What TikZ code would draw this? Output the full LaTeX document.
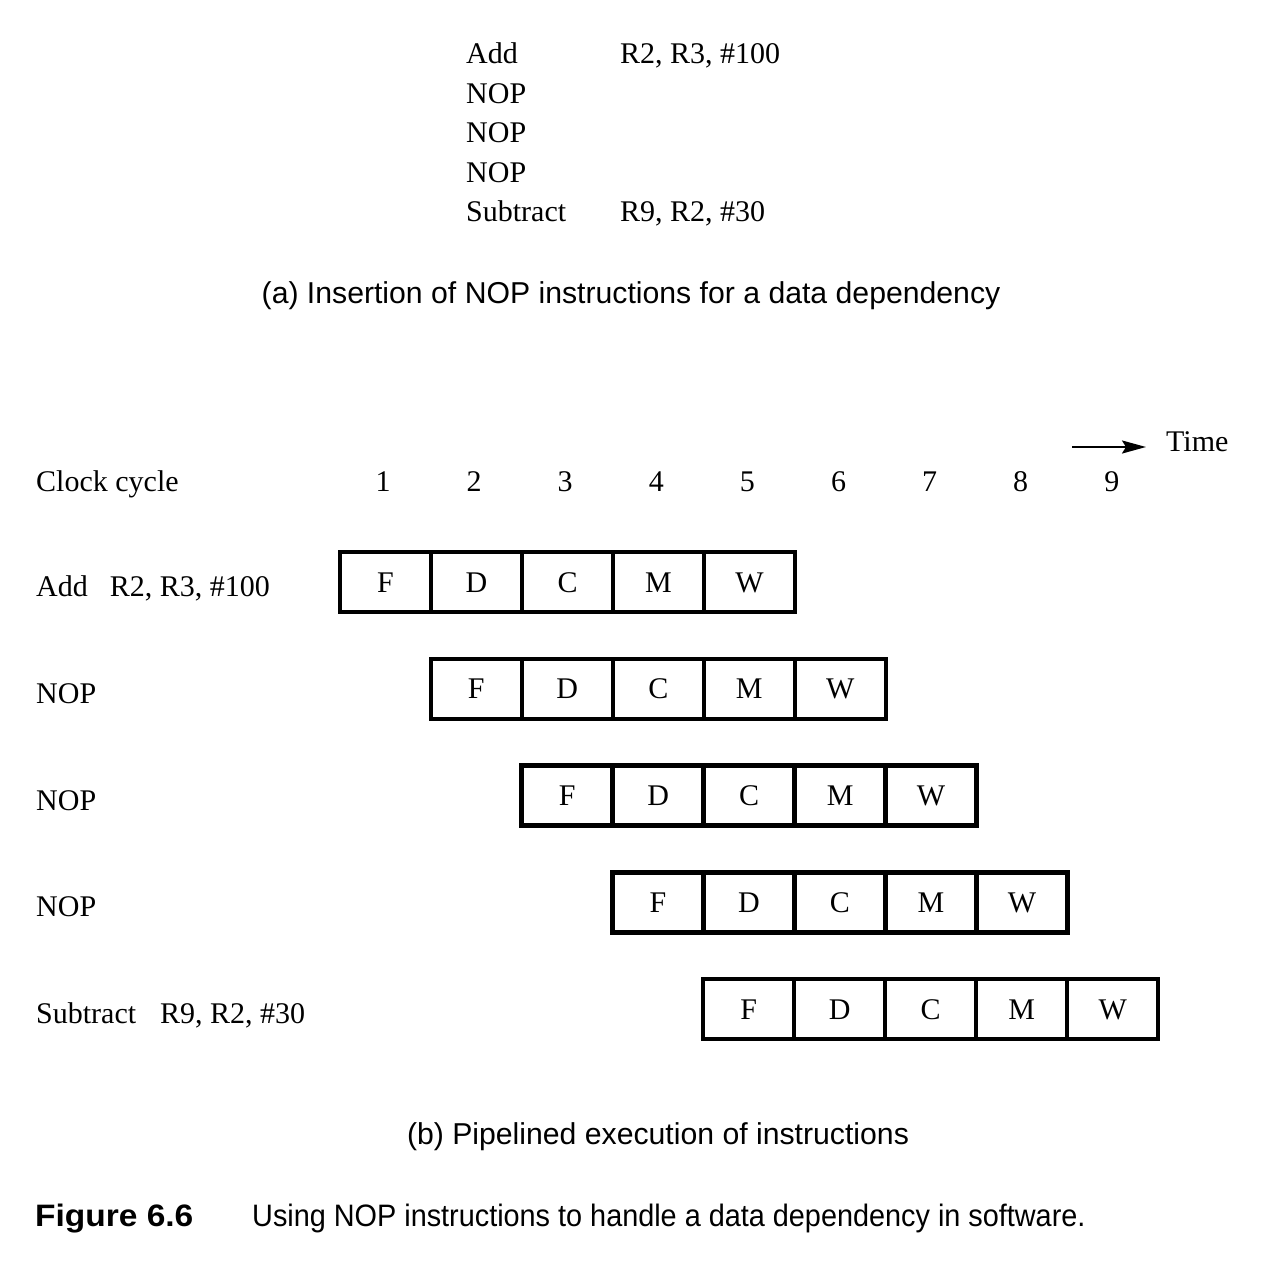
\documentclass[tikz,border=0pt]{standalone}
\usepackage{fontspec}
\setmainfont{Liberation Serif}
\newfontfamily\helv{Liberation Sans}
\newfontfamily\capfont[FakeStretch=0.93]{Liberation Sans}
\newfontfamily\capbold[FakeStretch=1.08]{Liberation Sans}
\usetikzlibrary{arrows.meta}
\begin{document}
\begin{tikzpicture}[x=1pt,y=-1pt,
  txt/.style={font=\fontsize{30}{36}\selectfont, inner sep=0pt},
  lbl/.style={txt, anchor=base west},
  sub/.style={font=\helv\fontsize{30.2}{36}\selectfont, inner sep=0pt, anchor=base},
  cell/.style={draw, line width=4.5pt, minimum width=91pt, minimum height=60pt,
     inner sep=0pt, font=\fontsize{30}{36}\selectfont, text height=20pt, text depth=0pt},
  num/.style={txt, anchor=base}
]
\useasboundingbox (0,0) rectangle (1269,1261);

% (a) listing
\node[lbl] (a1) at (466,63) {Add};
\node[lbl] (a1r) at (620,63) {R2, R3, \#100};
\node[lbl] (a2) at (466,103) {NOP};
\node[lbl] (a3) at (466,142) {NOP};
\node[lbl] (a4) at (466,182) {NOP};
\node[lbl] (a5) at (466,221) {Subtract};
\node[lbl] (a5r) at (620,221) {R9, R2, \#30};
\node[sub] (capa) at (631,303) {(a) Insertion of NOP instructions for a data dependency};

% time arrow
\coordinate (ts) at (1072,447);
\coordinate (te) at (1146,447);
\draw[line width=2.2pt, -{Stealth[length=24pt,width=13pt,inset=4pt]}] (ts) -- (te);
\node[lbl] (time) at (1166,451) {Time};

% clock cycles
\node[lbl] (cc) at (36,491) {Clock cycle};
\foreach \k in {1,...,9} {
  \node[num] (n\k) at ({383+91.1*(\k-1)},491) {\k};
}

% rows
\node[lbl] (r1) at (36,596) {Add\hspace{22pt}R2, R3, \#100};
\node[lbl] (r2) at (36,703) {NOP};
\node[lbl] (r3) at (36,810) {NOP};
\node[lbl] (r4) at (36,916) {NOP};
\node[lbl] (r5) at (36,1023) {Subtract\hspace{24pt}R9, R2, \#30};

\foreach \i in {0,...,4} {
  \foreach \s [count=\j from 0] in {F,D,C,M,W} {
    \node[cell] (c\i\j) at ({340+45.5+90.8*\i+91*\j},{582+106.8*\i}) {\s};
  }
}

\node[sub] (capb) at (658,1144) {(b) Pipelined execution of instructions};

% figure caption
\node[inner sep=0pt, anchor=base west, font=\capbold\bfseries\fontsize{31}{36}\selectfont] (fig) at (35,1226) {Figure 6.6};
\node[inner sep=0pt, anchor=base west, font=\capfont\fontsize{31}{36}\selectfont] (figt) at (252,1226) {Using NOP instructions to handle a data dependency in software.};
\end{tikzpicture}
\end{document}
